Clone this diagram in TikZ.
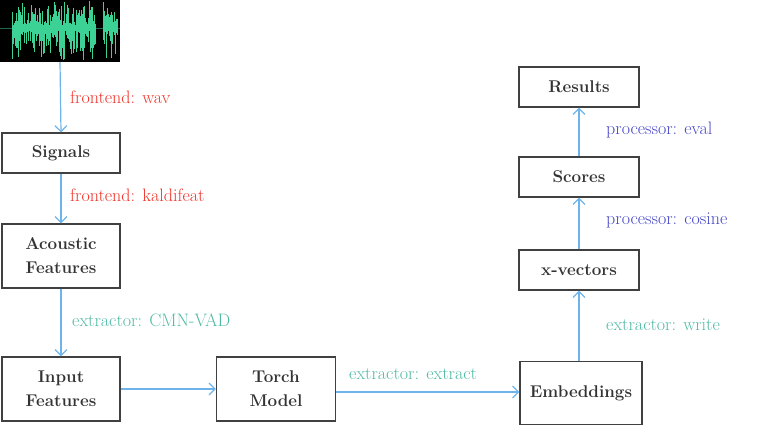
\documentclass[tikz,border=0pt]{standalone}
\usetikzlibrary{arrows.meta}
\definecolor{arr}{RGB}{110,180,235}
\definecolor{fe}{RGB}{240,50,40}
\definecolor{ex}{RGB}{80,185,165}
\definecolor{pr}{RGB}{70,70,200}
\definecolor{wave}{RGB}{60,210,150}
\begin{document}
\begin{tikzpicture}[x=1pt,y=-1pt,
  box/.style={draw=black!75,line width=1.2pt,minimum width=118pt,align=center,
    font=\fontsize{17}{24}\selectfont\bfseries,text=black!80,inner sep=0pt},
  conn/.style={draw=arr,line width=1.2pt,-{Straight Barb[length=6pt,width=12pt]}},
  lbl/.style={font=\fontsize{18}{22}\selectfont,anchor=west,inner sep=0pt}]
\useasboundingbox (0,0) rectangle (784,426);
% waveform
\fill[black] (0,0) rectangle (120,62);
\draw[wave!50!black,line width=0.4pt] (0,28) -- (120,28);
\pgfmathsetseed{11}
\foreach \i in {12,12.8,...,96,103,103.8,...,118}{
  \pgfmathsetmacro{\h}{3+24*rnd^1.5}
  \pgfmathsetmacro{\g}{3+30*rnd^1.5}
  \draw[wave,line width=0.9pt] (\i,28-\h) -- (\i,28+\g);
}
\coordinate (wav) at (60,62);
\node[box,minimum height=40pt] (sig) at (61,153) {Signals};
\node[box,minimum height=64pt] (ac) at (61,256) {Acoustic\\Features};
\node[box,minimum height=64pt] (in) at (61,389) {Input\\Features};
\node[box,minimum height=64pt,minimum width=119pt] (tm) at (276,389) {Torch\\Model};
\node[box,minimum height=63pt,minimum width=122pt] (emb) at (581,393) {Embeddings};
\node[box,minimum height=40pt,minimum width=120pt] (xv) at (579,270) {x-vectors};
\node[box,minimum height=40pt,minimum width=120pt] (sc) at (579,177) {Scores};
\node[box,minimum height=40pt,minimum width=120pt] (res) at (579,87) {Results};
\draw[conn] (wav) -- (sig.north);
\draw[conn] (sig) -- (ac);
\draw[conn] (ac) -- (in);
\draw[conn] (in) -- (tm);
\draw[conn] (tm.east |- 0,392) -- (emb.west |- 0,392);
\draw[conn] (emb.north -| xv) -- (xv);
\draw[conn] (xv) -- (sc);
\draw[conn] (sc) -- (res);
\node[lbl,text=fe] (l1) at (70,97) {frontend: wav};
\node[lbl,text=fe] (l2) at (70,195) {frontend: kaldifeat};
\node[lbl,text=ex] (l3) at (72,320) {extractor: CMN-VAD};
\node[lbl,text=ex] (l4) at (349,374) {extractor: extract};
\node[lbl,text=ex] (l5) at (606,325) {extractor: write};
\node[lbl,text=pr] (l6) at (606,220) {processor: cosine};
\node[lbl,text=pr] (l7) at (606,130) {processor: eval};
\end{tikzpicture}
\end{document}
